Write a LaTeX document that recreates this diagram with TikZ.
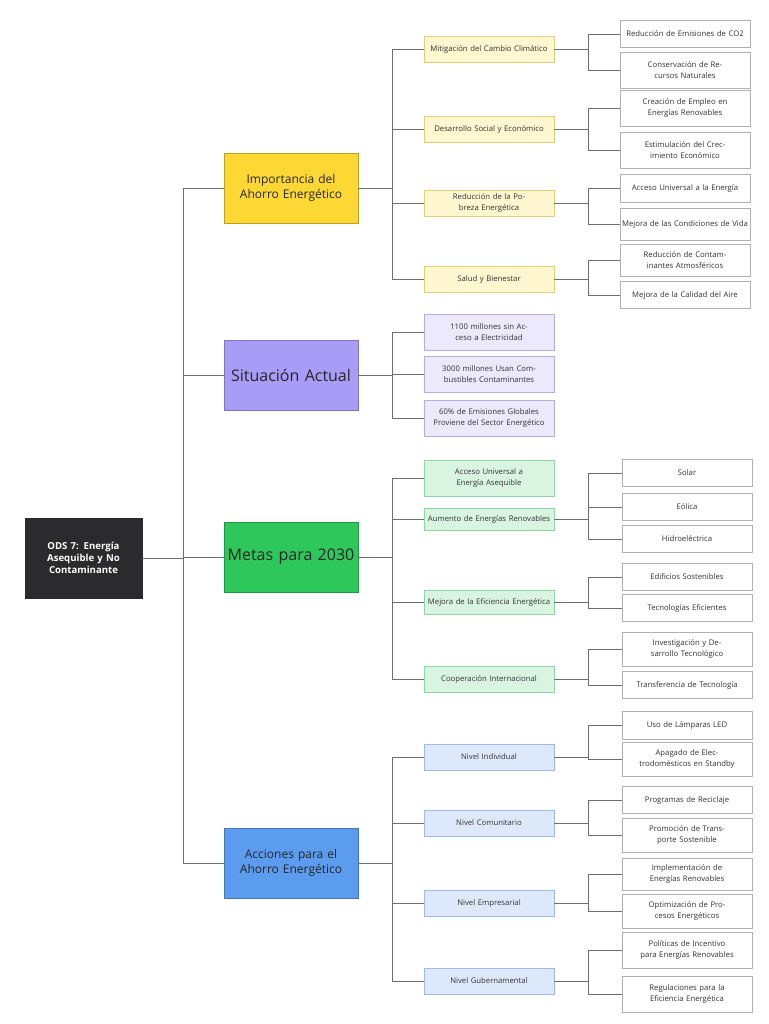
\documentclass[tikz,border=0pt]{standalone}
\usepackage{fontspec}
\setmainfont{Open Sans}
\definecolor{rootc}{HTML}{2B2B2E}
\definecolor{yel}{HTML}{FDD835}\definecolor{yell}{HTML}{FFF7CF}\definecolor{yelb}{HTML}{E3CF7A}
\definecolor{pur}{HTML}{A99CF6}\definecolor{purl}{HTML}{ECE9FC}\definecolor{purb}{HTML}{B5ACE8}
\definecolor{gre}{HTML}{2DC75B}\definecolor{grel}{HTML}{D9F5E1}\definecolor{greb}{HTML}{8FD6A4}
\definecolor{blu}{HTML}{5C9CEE}\definecolor{blul}{HTML}{DDE9FB}\definecolor{blub}{HTML}{9DBBE6}
\definecolor{linec}{HTML}{6E6E6E}
\begin{document}
\begin{tikzpicture}[x=0.75pt,y=-0.75pt,
 box/.style={draw,rectangle,align=center,inner sep=1pt,line width=0.5pt},
 root/.style={box,fill=rootc,draw=rootc,text=white,font=\bfseries\fontsize{7.2}{9}\selectfont,minimum width=87.75pt,minimum height=60pt,text width=84pt},
 lone/.style={box,draw=#1!75!black,minimum width=100.5pt,minimum height=52.5pt,text width=96pt,text=black!85},
 ltwo/.style={box,fill=#1l,draw=#1b,minimum width=97.5pt,text width=95pt,font=\fontsize{5.8}{8}\selectfont,text=black!80},
 lthree/.style={box,fill=white,draw=black!30,minimum width=97.5pt,text width=95pt,font=\fontsize{5.8}{8}\selectfont,text=black!80},
 conn/.style={draw=linec,line width=0.6pt}]
\useasboundingbox[fill=white] (0,0) rectangle (768,1024);
\node[root] (r) at (83.5,558) {ODS 7: Energía Asequible y No Contaminante};
% level 1
\node[lone=yel,fill=yel,font=\fontsize{9}{11}\selectfont] (a) at (291,188) {Importancia del Ahorro Energético};
\node[lone=pur,fill=pur,font=\fontsize{12}{14}\selectfont] (b) at (291,375) {Situación Actual};
\node[lone=gre,fill=gre,font=\fontsize{12}{14}\selectfont] (c) at (291,557) {Metas para 2030};
\node[lone=blu,fill=blu,font=\fontsize{9}{11}\selectfont] (d) at (291,863) {Acciones para el Ahorro Energético};
\foreach \n in {a,b,c,d}{\draw[conn] (r.east) -- ++(41,0) |- (\n.west);}
% level 2
\node[ltwo=yel,minimum height=19.5pt] (a1) at (489,49) {Mitigación del Cambio Climático};
\node[ltwo=yel,minimum height=19.5pt] (a2) at (489,129) {Desarrollo Social y Económico};
\node[ltwo=yel,minimum height=19.5pt] (a3) at (489,203) {Reducción de la Pobreza Energética};
\node[ltwo=yel,minimum height=19.5pt] (a4) at (489,279) {Salud y Bienestar};
\node[ltwo=pur,minimum height=27pt] (b1) at (489,332) {1100 millones sin Acceso a Electricidad};
\node[ltwo=pur,minimum height=27pt] (b2) at (489,374) {3000 millones Usan Combustibles Contaminantes};
\node[ltwo=pur,minimum height=27pt] (b3) at (489,418) {60\% de Emisiones Globales Proviene del Sector Energético};
\node[ltwo=gre,minimum height=27pt] (c1) at (489,478) {Acceso Universal a Energía Asequible};
\node[ltwo=gre,minimum height=16.5pt] (c2) at (489,519) {Aumento de Energías Renovables};
\node[ltwo=gre,minimum height=18pt] (c3) at (489,602) {Mejora de la Eficiencia Energética};
\node[ltwo=gre,minimum height=19.5pt] (c4) at (489,679) {Cooperación Internacional};
\node[ltwo=blu,minimum height=19.5pt] (d1) at (489,757) {Nivel Individual};
\node[ltwo=blu,minimum height=19.5pt] (d2) at (489,823) {Nivel Comunitario};
\node[ltwo=blu,minimum height=19.5pt] (d3) at (489,903) {Nivel Empresarial};
\node[ltwo=blu,minimum height=19.5pt] (d4) at (489,981) {Nivel Gubernamental};
\foreach \p/\l in {a/{a1,a2,a3,a4},b/{b1,b2,b3},c/{c1,c2,c3,c4},d/{d1,d2,d3,d4}}{
 \foreach \n in \l {\draw[conn] (\p.east) -- ++(34,0) |- (\n.west);}}
% level 3
\node[lthree,minimum height=20pt] (a11) at (685,34) {Reducción de Emisiones de CO2};
\node[lthree,minimum height=27pt] (a12) at (685,70) {Conservación de Recursos Naturales};
\node[lthree,minimum height=27pt] (a21) at (685,108) {Creación de Empleo en Energías Renovables};
\node[lthree,minimum height=27pt] (a22) at (685,150) {Estimulación del Crecimiento Económico};
\node[lthree,minimum height=21pt] (a31) at (685,188) {Acceso Universal a la Energía};
\node[lthree,minimum height=24pt] (a32) at (685,224) {Mejora de las Condiciones de Vida};
\node[lthree,minimum height=24pt] (a41) at (685,260) {Reducción de Contaminantes Atmosféricos};
\node[lthree,minimum height=20pt] (a42) at (685,295) {Mejora de la Calidad del Aire};
\node[lthree,minimum height=20pt] (c21) at (687,473) {Solar};
\node[lthree,minimum height=20pt] (c22) at (687,507) {Eólica};
\node[lthree,minimum height=20pt] (c23) at (687,539) {Hidroeléctrica};
\node[lthree,minimum height=20pt] (c31) at (687,577) {Edificios Sostenibles};
\node[lthree,minimum height=20pt] (c32) at (687,608) {Tecnologías Eficientes};
\node[lthree,minimum height=25.5pt] (c41) at (687,649) {Investigación y Desarrollo Tecnológico};
\node[lthree,minimum height=20pt] (c42) at (687,685) {Transferencia de Tecnología};
\node[lthree,minimum height=21pt] (d11) at (687,725) {Uso de Lámparas LED};
\node[lthree,minimum height=25.5pt] (d12) at (687,759) {Apagado de Electrodomésticos en Standby};
\node[lthree,minimum height=20pt] (d21) at (687,800) {Programas de Reciclaje};
\node[lthree,minimum height=25.5pt] (d22) at (687,835) {Promoción de Transporte Sostenible};
\node[lthree,minimum height=24pt] (d31) at (687,874) {Implementación de Energías Renovables};
\node[lthree,minimum height=25.5pt] (d32) at (687,911) {Optimización de Procesos Energéticos};
\node[lthree,minimum height=27pt] (d41) at (687,950) {Políticas de Incentivo para Energías Renovables};
\node[lthree,minimum height=27pt] (d42) at (687,994) {Regulaciones para la Eficiencia Energética};
\foreach \p/\l in {a1/{a11,a12},a2/{a21,a22},a3/{a31,a32},a4/{a41,a42},c2/{c21,c22,c23},c3/{c31,c32},c4/{c41,c42},d1/{d11,d12},d2/{d21,d22},d3/{d31,d32},d4/{d41,d42}}{
 \foreach \n in \l {\draw[conn] (\p.east) -- ++(34,0) |- (\n.west);}}
\end{tikzpicture}
\end{document}
